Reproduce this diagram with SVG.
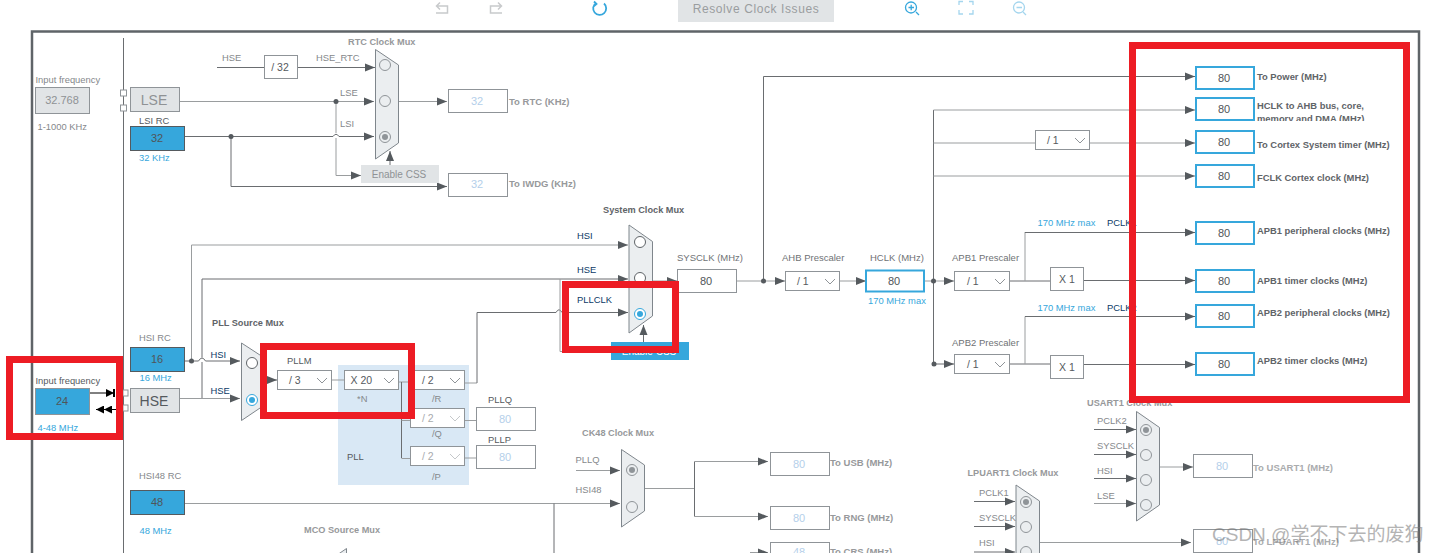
<svg xmlns="http://www.w3.org/2000/svg" width="1438" height="553" viewBox="0 0 1438 553">
<style>
text{font-family:"Liberation Sans",Arial,sans-serif;font-size:9.400px;fill:#8c8f92}
.t{fill:#85888b;font-size:9.400px}
.m{fill:#6f7275;font-size:9.500px}
.h{fill:#97999b;font-weight:bold;font-size:9.200px}
.hd{fill:#5f6468;font-weight:bold;font-size:9.200px}
.o{fill:#5f6468;font-weight:bold;font-size:9.400px}
.og{fill:#97999b;font-weight:bold;font-size:9.500px}
.n{fill:#0b3a66;font-size:9.400px}
.d{fill:#555a5e;font-size:9.400px}
.b{fill:#36a7dc;font-size:9.400px}
.v{font-size:11px;text-anchor:middle;fill:#505558}
.vl{font-size:11px;text-anchor:middle;fill:#b4cfea}
.vg{font-size:11px;text-anchor:middle;fill:#8f9295}
.box{fill:#fff;stroke:#8f9498;stroke-width:1}
.bo{fill:#fff;stroke:#36a7dc;stroke-width:2}
.blue{fill:#36a7dc;stroke:#555a5e;stroke-width:1}
.grey{fill:#e1e4e6;stroke:#8f9498;stroke-width:1}
.mux{fill:#ebeef0;stroke:#7f868c;stroke-width:1}
.c{fill:none;stroke:#8f9498;stroke-width:1}
.l{fill:none;stroke:#6a6d70;stroke-width:1}
.g{fill:none;stroke:#9a9d9f;stroke-width:1}
.a{marker-end:url(#ar)}
.dot{fill:#555a5e}
.chev{fill:none;stroke:#8f9498;stroke-width:1}
.chevl{fill:none;stroke:#c5c8ca;stroke-width:1}
.red{fill:none;stroke:#ed1c24;stroke-width:7}
.ic{fill:none;stroke:#36a7dc;stroke-width:1.300}
.icl{fill:none;stroke:#a5d6ee;stroke-width:1.300}
.icg{fill:none;stroke:#c8cacc;stroke-width:1.500}
</style>
<defs>
<marker id="ar" markerUnits="userSpaceOnUse" markerWidth="11" markerHeight="9" refX="10" refY="4.500" orient="auto"><path d="M0,0.500L10,4.500L0,8.500z" fill="#555a5e"/></marker>
<marker id="ak" markerUnits="userSpaceOnUse" markerWidth="10" markerHeight="8" refX="8" refY="4" orient="auto"><path d="M0,0L8,4L0,8z" fill="#000"/></marker>
<clipPath id="hc"><rect x="1255" y="98" width="150" height="23"/></clipPath>
</defs>
<rect width="1438" height="553" fill="#fff"/>
<g id="toolbar">
<path class="icg" d="M440,2.500L436.500,6L440,9.500M437,6H447.500V13H436"/>
<path class="icg" d="M498,2.500L501.500,6L498,9.500M501,6H490.500V13H502"/>
<path class="ic" style="stroke-width:1.800" d="M596,3A6.500,6.500 0 1 0 604,3.500M594,1.500L596.500,4L593.500,6.500"/>
<rect x="678" y="0" width="156" height="22" fill="#e1e4e6"/>
<text x="756" y="13" text-anchor="middle" style="font-size:12px;letter-spacing:.6px;fill:#9a9d9f">Resolve Clock Issues</text>
<path class="ic" d="M916,12L919,15M908.500,7.500H914M911.200,4.800V10.200"/><circle class="ic" cx="911" cy="7.500" r="5.500"/>
<path class="icl" d="M959,5V1.500H963M969,1.500H973V5M973,10V14H969M963,14H959V10"/>
<path class="icl" d="M1023,12L1026,15M1016.500,7.500H1022"/><circle class="icl" cx="1019" cy="7.500" r="5.500"/>
</g>
<rect id="frame" x="32" y="31.500" width="1387" height="600" fill="none" stroke="#5f6468" stroke-width="2.500"/>
<rect id="pll-area" x="338" y="365" width="131" height="120" fill="#d9e8f5"/>
<g id="connectors">
<path class="l" d="M123.500,38V553"/>
<path class="l a" d="M217,67.500H375"/>
<path class="g a" d="M180,101.500H374"/>
<path class="l a" d="M184,136.500H333Q336,132 339,136.500H374"/>
<path class="g" d="M336,101.500V133"/>
<path class="g a" d="M336,138V175.500H361"/>
<path class="l a" d="M231,136.500V186.500H447"/>
<path class="g a" d="M399,101.500H447"/>
<path class="l a" d="M390,165V151"/>
<path class="g" d="M191.500,245V361"/>
<path class="g a" d="M191.500,245H628"/>
<path class="l a" d="M202,279H628"/>
<path class="l" d="M202,279V357.500M202,362V398.500"/>
<path class="l a" d="M184,361H198.500Q202,355 205.500,361H240"/>
<path class="g a" d="M180,398.500H240"/>
<path class="l a" d="M264,380H277"/>
<path class="g" d="M331,380H345M398,382H410"/>
<path class="l" d="M401.500,382V458"/>
<path class="g" d="M401.500,420.500H410M401.500,458.500H410"/>
<path class="g" d="M464,383H477"/>
<path class="l a" d="M477,383V312.500H556Q559,307 562,312.500H628"/>
<path class="g" d="M464,420.500H476M464,458H476"/>
<path class="g" d="M560,279V351.500H612"/>
<path class="l a" d="M643.500,342V325"/>
<path class="g a" d="M652,281H677"/>
<path class="g" d="M736,281H763"/>
<path class="g a" d="M763,281H785"/>
<path class="l a" d="M763.500,281V76.500H1195"/>
<path class="g a" d="M839,281H866"/>
<path class="g a" d="M924,281H954"/>
<path class="l" d="M933.500,110V364"/>
<path class="g a" d="M933.500,110H1195"/>
<path class="g a" d="M933.500,143H1195"/>
<path class="g a" d="M933.500,176H1195"/>
<path class="l a" d="M934,364H954"/>
<path class="l" d="M1010,281H1051"/>
<path class="g" d="M1025,281V232"/>
<path class="l a" d="M1025,232.500H1195"/>
<path class="l a" d="M1084,280.500H1195"/>
<path class="l" d="M1010,364H1051"/>
<path class="g" d="M1025,364V316.500"/>
<path class="l a" d="M1025,316.500H1195"/>
<path class="l a" d="M1083,364.500H1195"/>
<path class="g" d="M184,503.500H554"/>
<path class="g a" d="M554,503.500H620"/>
<path class="l" d="M554,503.500V553"/>
<path class="g a" d="M576,470.500H620"/>
<path class="g" d="M644,488.500H694"/>
<path class="l" d="M694.500,461.500V516.500"/>
<path class="g a" d="M694.500,461.500H768"/>
<path class="g a" d="M694.500,516.500H768"/>
<path class="l a" d="M1094,429.500H1136"/>
<path class="l a" d="M1094,454.500H1136"/>
<path class="l a" d="M1094,478.500H1136"/>
<path class="g a" d="M1094,503.500H1136"/>
<path class="g a" d="M1159,467H1193"/>
<path class="l a" d="M974,501.500H1015"/>
<path class="l a" d="M974,526.500H1015"/>
<path class="l a" d="M974,552H1015"/>
<path class="g a" d="M1039,542.500H1191"/>
<path d="M90,393H114" fill="none" stroke="#000" marker-end="url(#ak)"/>
<path d="M123,409.500H104" fill="none" stroke="#000" marker-end="url(#ak)"/>
<path d="M104,409.500H96" fill="none" stroke="#000" marker-end="url(#ak)"/>
<path d="M114,389V397" stroke="#000" stroke-width="2" fill="none"/>
<circle class="dot" cx="336" cy="101.500" r="2.500"/><circle class="dot" cx="231" cy="136.500" r="2.500"/>
<circle class="dot" cx="191.500" cy="361" r="2.500"/><circle class="dot" cx="763.500" cy="281" r="2.500"/>
<circle class="dot" cx="933.500" cy="281" r="2.500"/><circle class="dot" cx="934" cy="364" r="2.500"/>
</g>
<g id="ext-pins">
<rect class="box" x="120.500" y="90" width="6" height="6"/><rect class="box" x="120.500" y="105" width="6" height="6"/>
<rect class="box" x="123" y="390" width="5" height="6"/><rect class="box" x="123" y="405" width="5" height="6"/>
</g>
<g id="lse-input"><text class="t" x="35.500" y="83">Input frequency</text><rect class="grey" x="35.500" y="87.500" width="54" height="26"/><text class="vg" x="62" y="104">32.768</text><text class="t" x="37.500" y="130">1-1000 KHz</text></g>
<g id="lse"><rect class="grey" x="130.500" y="87.500" width="49" height="24"/><text x="154" y="104.500" text-anchor="middle" style="font-size:14px;fill:#8f9295">LSE</text></g>
<g id="lsi-rc"><text class="d" x="139" y="124">LSI RC</text><rect class="blue" x="130.500" y="126.500" width="54" height="24"/><text class="v" x="157" y="142">32</text><text class="b" x="139" y="161">32 KHz</text></g>
<g id="hsi-rc"><text class="t" x="139" y="341">HSI RC</text><rect class="blue" x="130.500" y="347.500" width="54" height="24"/><text class="v" x="157" y="363">16</text><text class="b" x="139.500" y="381">16 MHz</text></g>
<g id="hse-input"><text class="d" x="35.500" y="384">Input frequency</text><rect x="35.500" y="388.500" width="54" height="26" fill="#36a7dc" stroke="#8f9498"/><text class="v" x="62" y="405">24</text><text class="b" x="37.500" y="431">4-48 MHz</text></g>
<g id="hse"><rect class="grey" x="130.500" y="388.500" width="49" height="24"/><text x="154" y="405.500" text-anchor="middle" style="font-size:14px;fill:#555a5e">HSE</text></g>
<g id="hsi48-rc"><text class="t" x="139" y="479">HSI48 RC</text><rect class="blue" x="130.500" y="490.500" width="54" height="24"/><text class="v" x="157" y="506">48</text><text class="b" x="139.500" y="534">48 MHz</text></g>
<g id="labels">
<text class="t" x="222" y="61">HSE</text><text class="t" x="316" y="61">HSE_RTC</text><text class="t" x="340" y="96">LSE</text><text class="t" x="340" y="127">LSI</text>
<text class="n" x="210.500" y="358">HSI</text><text class="n" x="210.500" y="394">HSE</text>
<text class="n" x="577" y="239">HSI</text><text class="n" x="577" y="273">HSE</text><text class="n" x="577" y="303">PLLCLK</text>
<text class="t" x="575.500" y="463">PLLQ</text><text class="t" x="575.500" y="493">HSI48</text>
<text class="b" x="1037.500" y="226">170 MHz max</text><text class="n" x="1107" y="226">PCLK1</text>
<text class="b" x="1037.500" y="311">170 MHz max</text><text class="n" x="1107" y="311">PCLK2</text>
<text class="t" x="1097" y="424">PCLK2</text><text class="t" x="1097" y="449">SYSCLK</text><text class="t" x="1097" y="474">HSI</text><text class="t" x="1097" y="499">LSE</text>
<text class="t" x="979" y="496">PCLK1</text><text class="t" x="979" y="521">SYSCLK</text><text class="t" x="979" y="546">HSI</text>
<text class="h" x="348" y="45">RTC Clock Mux</text><text class="hd" x="603" y="213">System Clock Mux</text><text class="hd" x="212" y="326">PLL Source Mux</text>
<text class="h" x="582" y="436">CK48 Clock Mux</text><text class="h" x="304" y="533">MCO Source Mux</text><text class="h" x="1087" y="406">USART1 Clock Mux</text><text class="h" x="967.500" y="476">LPUART1 Clock Mux</text>
</g>
<g id="div32"><rect class="box" x="264.500" y="55.500" width="33" height="23"/><text class="d" x="280" y="71" text-anchor="middle" style="font-size:10.500px">/ 32</text></g>
<g id="rtc-mux"><path class="mux" d="M375.500,49.500L398.500,65V143L375.500,159Z"/><circle class="c" cx="385" cy="65" r="5.500"/><circle class="c" cx="385" cy="101" r="5.500"/><circle class="c" cx="385" cy="137" r="5.500"/><circle cx="385" cy="137" r="3" fill="#8f9498"/></g>
<g id="enable-css-rtc"><rect x="361" y="165" width="78" height="18" fill="#e1e4e6"/><text x="399" y="177.500" text-anchor="middle" style="font-size:10px;fill:#8f9295">Enable CSS</text></g>
<g id="to-rtc"><rect class="box" x="448.500" y="89.500" width="59" height="23"/><text class="vl" x="477" y="105">32</text><text class="og" x="509" y="105">To RTC (KHz)</text></g>
<g id="to-iwdg"><rect class="box" x="448.500" y="173.500" width="59" height="23"/><text class="vl" x="477" y="188">32</text><text class="og" x="509" y="187">To IWDG (KHz)</text></g>
<g id="pll-src-mux"><path class="mux" d="M241.500,343L264.500,358V405L241.500,420.500Z"/><circle cx="252" cy="363" r="5.500" fill="#fff" stroke="#5f6468"/><circle cx="252" cy="400" r="5.500" fill="#fff" stroke="#36a7dc"/><circle cx="252" cy="400" r="3" fill="#36a7dc"/></g>
<g id="pllm"><text class="d" x="287" y="364">PLLM</text><rect class="box" x="277.500" y="370.500" width="54" height="19"/><text class="d" x="289" y="384" style="font-size:10.500px">/ 3</text><path class="chev" d="M317,378L322,383L327,378"/></g>
<g id="plln"><rect class="box" x="344.500" y="370.500" width="54" height="19"/><text class="d" x="350.500" y="384" style="font-size:10.500px">X 20</text><path class="chev" d="M384,378L389,383L394,378"/><text class="t" x="357" y="402">*N</text></g>
<g id="pllr"><rect class="box" x="410.500" y="370.500" width="54" height="19"/><text class="d" x="422" y="384" style="font-size:10.500px">/ 2</text><path class="chev" d="M450,378L455,383L460,378"/><text class="t" x="432" y="402">/R</text></g>
<g id="pllq"><rect class="box" x="410.500" y="408.500" width="54" height="19"/><text x="422" y="422" style="font-size:10.500px;fill:#a8abad">/ 2</text><path class="chevl" d="M450,416L455,421L460,416"/><text class="t" x="432" y="437">/Q</text></g>
<g id="pllp"><rect class="box" x="410.500" y="446.500" width="54" height="19"/><text x="422" y="460" style="font-size:10.500px;fill:#a8abad">/ 2</text><path class="chevl" d="M450,454L455,459L460,454"/><text class="t" x="432" y="480">/P</text></g>
<text id="pll-label" class="d" x="347" y="460">PLL</text>
<g id="pllq-out"><text class="d" x="488" y="403">PLLQ</text><rect class="box" x="476.500" y="407.500" width="59" height="23"/><text class="vl" x="505" y="423">80</text></g>
<g id="pllp-out"><text class="d" x="488" y="443">PLLP</text><rect class="box" x="476.500" y="445.500" width="59" height="23"/><text class="vl" x="505" y="461">80</text></g>
<g id="sys-mux"><path class="mux" d="M629,225L652.500,241.500V316L629,333Z"/><circle cx="640" cy="242" r="5.500" fill="#fff" stroke="#5f6468"/><circle cx="640" cy="278" r="5.500" fill="#fff" stroke="#5f6468"/><circle cx="640" cy="314" r="5.500" fill="#fff" stroke="#36a7dc"/><circle cx="640" cy="314" r="3" fill="#36a7dc"/></g>
<g id="enable-css-sys"><rect x="611" y="342" width="78" height="18" fill="#36a7dc"/><text x="649" y="355" text-anchor="middle" style="font-size:10px;fill:#fff">Enable CSS</text></g>
<g id="sysclk"><text class="m" x="677" y="261">SYSCLK (MHz)</text><rect class="box" x="677.500" y="269.500" width="59" height="23"/><text class="v" x="706" y="285">80</text></g>
<g id="ahb"><text class="m" x="782" y="261">AHB Prescaler</text><rect class="box" x="785.500" y="271.500" width="54" height="19"/><text class="d" x="797" y="285" style="font-size:10.500px">/ 1</text><path class="chev" d="M825,279L830,284L835,279"/></g>
<g id="hclk"><text class="m" x="870" y="261">HCLK (MHz)</text><rect class="bo" x="866" y="270.500" width="58" height="21"/><text class="v" x="894" y="285">80</text><text class="b" x="868" y="304">170 MHz max</text></g>
<g id="apb1"><text class="m" x="952" y="261">APB1 Prescaler</text><rect class="box" x="954.500" y="271.500" width="55" height="19"/><text class="d" x="967" y="285" style="font-size:10.500px">/ 1</text><path class="chev" d="M995,279L1000,284L1005,279"/></g>
<g id="apb2"><text class="m" x="952" y="346">APB2 Prescaler</text><rect class="box" x="954.500" y="354.500" width="55" height="19"/><text class="d" x="967" y="368" style="font-size:10.500px">/ 1</text><path class="chev" d="M995,362L1000,367L1005,362"/></g>
<g id="cortex-div"><rect class="box" x="1035.500" y="130.500" width="54" height="19"/><text class="d" x="1047" y="144" style="font-size:10.500px">/ 1</text><path class="chev" d="M1075,138L1080,143L1085,138"/></g>
<g id="x1a"><rect class="box" x="1050.500" y="267.500" width="33" height="23"/><text class="d" x="1067" y="283" text-anchor="middle" style="font-size:10.500px">X 1</text></g>
<g id="x1b"><rect class="box" x="1050.500" y="355.500" width="33" height="23"/><text class="d" x="1067" y="371" text-anchor="middle" style="font-size:10.500px">X 1</text></g>
<g id="out-power"><rect class="bo" x="1196" y="67" width="58" height="22"/><text class="v" x="1224" y="82">80</text><text class="o" x="1257" y="80">To Power (MHz)</text></g>
<g id="out-hclk"><rect class="bo" x="1196" y="98" width="58" height="22"/><text class="v" x="1224" y="113">80</text><text class="o" x="1257" y="109">HCLK to AHB bus, core,</text><text class="o" x="1257" y="122" clip-path="url(#hc)">memory and DMA (MHz)</text></g>
<g id="out-systick"><rect class="bo" x="1196" y="131" width="58" height="22"/><text class="v" x="1224" y="146">80</text><text class="o" x="1257" y="148">To Cortex System timer (MHz)</text></g>
<g id="out-fclk"><rect class="bo" x="1196" y="165" width="58" height="22"/><text class="v" x="1224" y="180">80</text><text class="o" x="1257" y="181">FCLK Cortex clock (MHz)</text></g>
<g id="out-apb1p"><rect class="bo" x="1196" y="222" width="58" height="22"/><text class="v" x="1224" y="237">80</text><text class="o" x="1257" y="234">APB1 peripheral clocks (MHz)</text></g>
<g id="out-apb1t"><rect class="bo" x="1196" y="270" width="58" height="22"/><text class="v" x="1224" y="285">80</text><text class="o" x="1257" y="284">APB1 timer clocks (MHz)</text></g>
<g id="out-apb2p"><rect class="bo" x="1196" y="305" width="58" height="22"/><text class="v" x="1224" y="320">80</text><text class="o" x="1257" y="316">APB2 peripheral clocks (MHz)</text></g>
<g id="out-apb2t"><rect class="bo" x="1196" y="353" width="58" height="22"/><text class="v" x="1224" y="368">80</text><text class="o" x="1257" y="364">APB2 timer clocks (MHz)</text></g>
<g id="ck48-mux"><path class="mux" d="M621.500,449.500L644.500,465V511L621.500,527Z"/><circle class="c" cx="632" cy="470" r="5.500"/><circle cx="632" cy="470" r="3" fill="#8f9498"/><circle class="c" cx="632" cy="507" r="5.500"/></g>
<g id="to-usb"><rect class="box" x="770.500" y="452.500" width="59" height="23"/><text class="vl" x="799" y="468">80</text><text class="og" x="830" y="466">To USB (MHz)</text></g>
<g id="to-rng"><rect class="box" x="770.500" y="506.500" width="59" height="23"/><text class="vl" x="799" y="522">80</text><text class="og" x="830" y="521">To RNG (MHz)</text></g>
<g id="to-crs"><path class="g a" d="M750,552.500H768"/><rect class="box" x="770.500" y="542.500" width="59" height="23"/><text class="vl" x="799" y="556">48</text><text class="og" x="830" y="555">To CRS (MHz)</text></g>
<g id="mco-mux"><path class="mux" d="M346.500,548.500L324,564V600H346.500Z"/></g>
<g id="usart-mux"><path class="mux" d="M1136.500,411.500L1159.500,427.500V505L1136.500,521Z"/><circle class="c" cx="1146" cy="430" r="5.500"/><circle cx="1146" cy="430" r="3" fill="#8f9498"/><circle class="c" cx="1146" cy="455" r="5.500"/><circle class="c" cx="1146" cy="480" r="5.500"/><circle class="c" cx="1146" cy="505" r="5.500"/></g>
<g id="to-usart"><rect class="box" x="1193.500" y="454.500" width="59" height="23"/><text class="vl" x="1222" y="470">80</text><text class="og" x="1253" y="471" style="fill:#aaacae">To USART1 (MHz)</text></g>
<g id="lpuart-mux"><path class="mux" d="M1016,485L1039.500,501V600H1016Z"/><circle class="c" cx="1026" cy="502" r="5.500"/><circle cx="1026" cy="502" r="3" fill="#8f9498"/><circle class="c" cx="1026" cy="527" r="5.500"/><circle class="c" cx="1026" cy="552" r="5.500"/></g>
<g id="to-lpuart"><rect class="box" x="1193.500" y="529.500" width="59" height="23"/><text class="vl" x="1222" y="545">80</text><text class="og" x="1253" y="545" style="fill:#aaacae">To LPUART1 (MHz)</text></g>
<g id="highlights">
<rect class="red" x="9.500" y="359.500" width="110" height="77"/>
<rect class="red" x="263.500" y="346.500" width="148" height="69"/>
<rect class="red" x="565.500" y="284.500" width="110" height="65"/>
<rect class="red" x="1132.500" y="45.500" width="274" height="354"/>
</g>
<text id="watermark" x="1212" y="541" style="font-family:'Liberation Sans','Noto Sans CJK SC',sans-serif;font-size:19px;fill:#777;opacity:.55">CSDN @学不下去的废狗</text>
</svg>
